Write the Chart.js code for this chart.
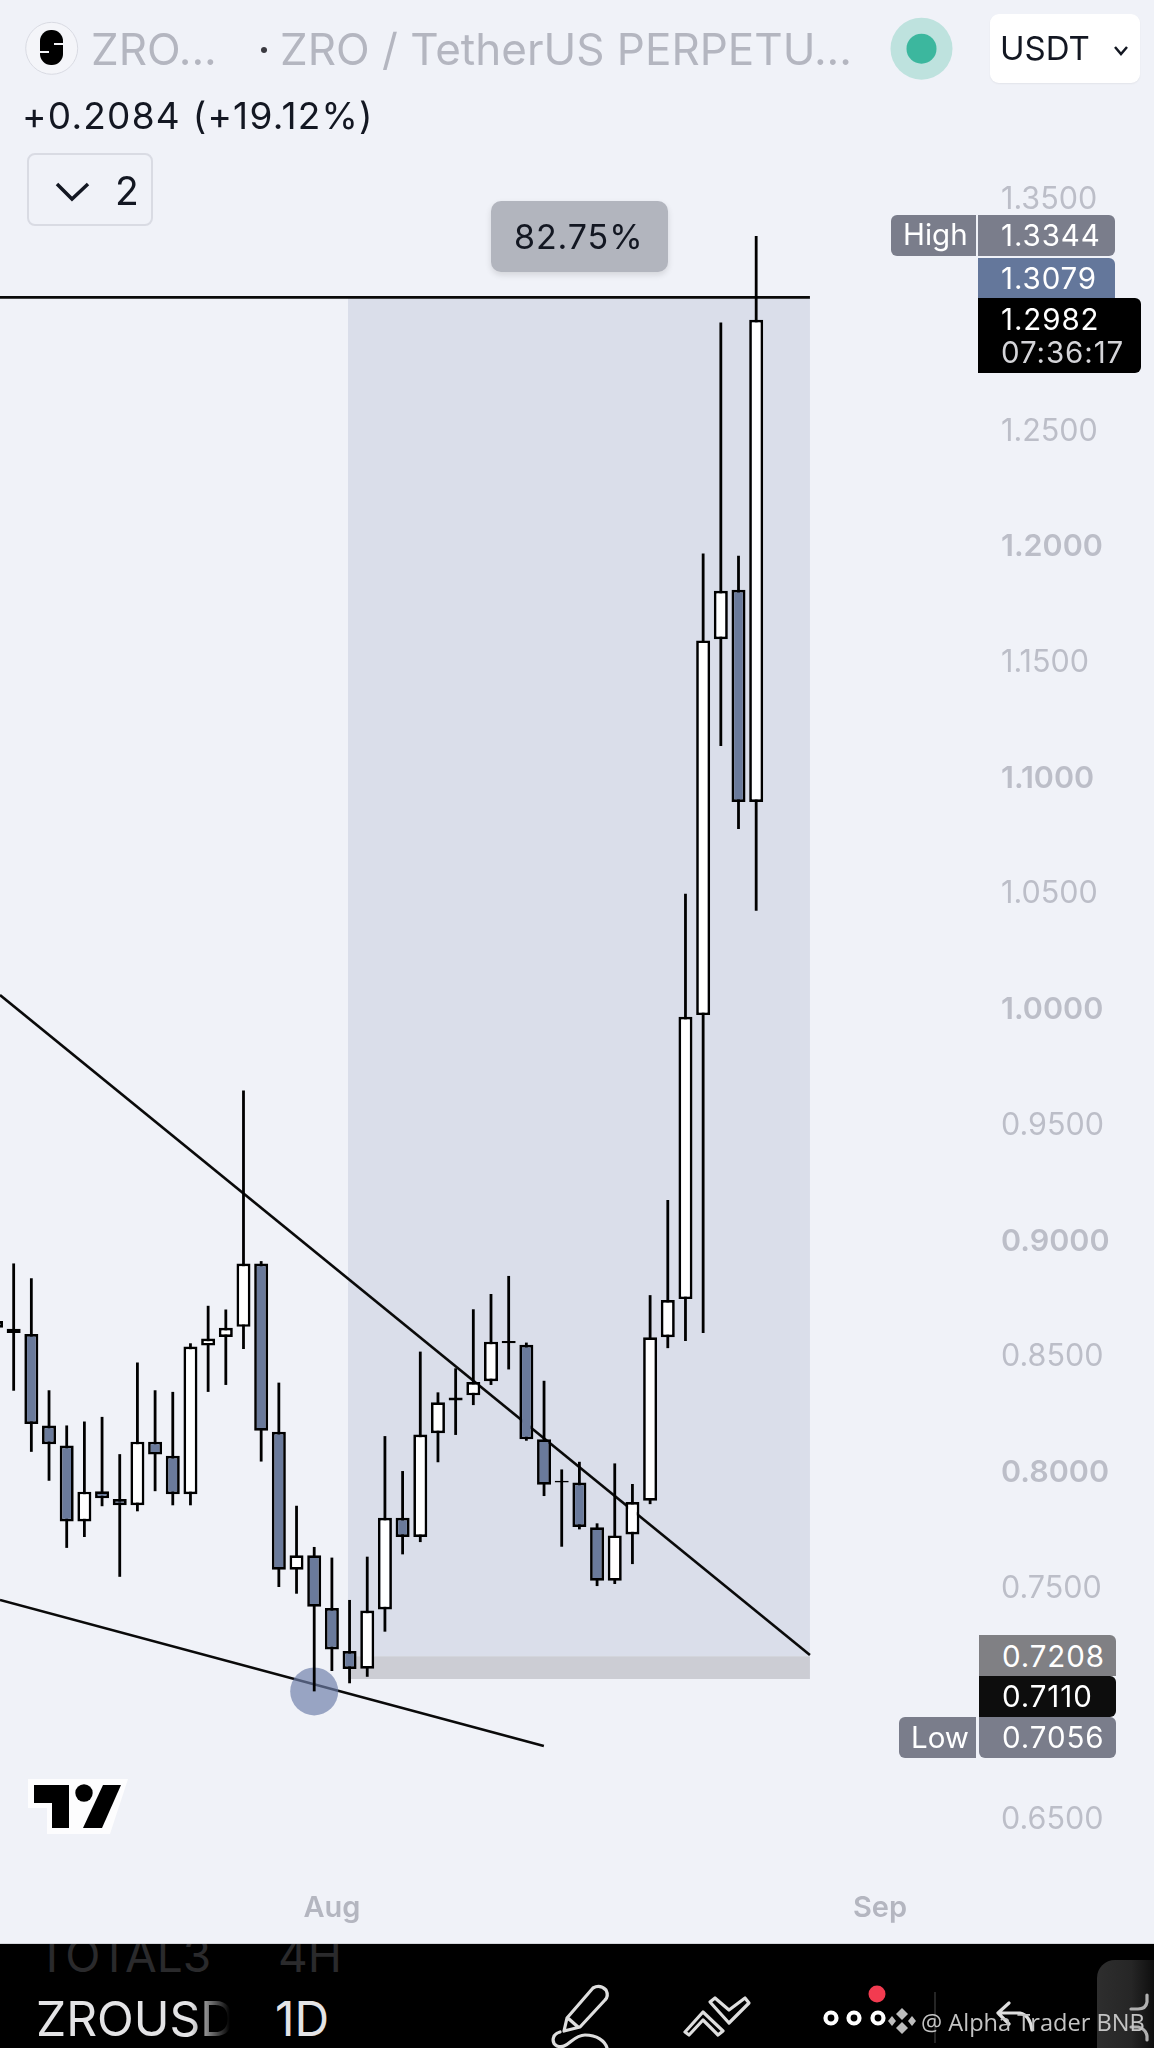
<!DOCTYPE html>
<html>
<head>
<meta charset="utf-8">
<title>ZROUSD 1D</title>
<script src="https://cdn.jsdelivr.net/npm/chart.js@4"></script>
<style>
  html, body { margin: 0; padding: 0; background: #f0f2f8; width: 1154px; height: 2048px; overflow: hidden; font-family: Inter, sans-serif; }
  #chart { position: absolute; left: 0; top: 0; }
  .t { position: absolute; white-space: nowrap; line-height: 1; transform: translateY(-50%); }
  .tag { position: absolute; color: #fff; font-size: 29.5px; letter-spacing: .9px; box-sizing: border-box; }
  .tag span { position: absolute; left: 23px; top: 50%; transform: translateY(-50%); line-height: 1; }
  #footer { position: absolute; left: 0; top: 1943px; width: 1154px; height: 105px; background: #000; overflow: hidden; border-top: 1px solid #d6d7dc; box-sizing: border-box; }
  #icons { position: absolute; left: 0; top: 0; pointer-events: none; }
</style>
</head>
<body>
<canvas id="chart" width="1154" height="1943"></canvas>

<!-- header -->
<span class="t" style="left:91px;top:49px;font-size:44px;color:#b4b6c0">ZRO...</span>
<span class="t" style="left:258px;top:49px;font-size:36px;color:#3a3a40;font-weight:700">·</span>
<span class="t" style="left:280px;top:49px;font-size:44px;color:#b4b6c0">ZRO / TetherUS PERPETU...</span>
<span class="t" style="left:22px;top:115px;font-size:37px;color:#131722;letter-spacing:1.25px">+0.2084 (+19.12%)</span>
<div style="position:absolute;left:27px;top:153px;width:126px;height:73px;box-sizing:border-box;border:2px solid #d9dbe3;border-radius:8px"></div>
<span class="t" style="left:115px;top:190px;font-size:39px;color:#131722">2</span>
<div style="position:absolute;left:990px;top:14px;width:150px;height:69px;background:#fff;border-radius:9px;box-shadow:0 1px 2px rgba(0,0,0,.06)"></div>
<span class="t" style="left:1000px;top:48px;font-size:33px;color:#131722">USDT</span>

<!-- percent pill -->
<div style="position:absolute;left:491px;top:201px;width:177px;height:71px;background:#b2b5be;border-radius:10px;box-shadow:0 3px 6px rgba(0,0,0,.12)"></div>
<span class="t" style="left:514px;top:237px;font-size:34px;color:#131722;letter-spacing:.9px">82.75%</span>

<!-- price tags -->
<div class="tag" style="left:891px;top:215px;width:85px;height:41px;background:#7a7d8b;border-radius:6px 0 0 6px"><span style="left:12px;top:48%;letter-spacing:0">High</span></div>
<div class="tag" style="left:978px;top:215px;width:137px;height:41px;background:#7a7d8b;border-radius:0 6px 6px 0"><span>1.3344</span></div>
<div class="tag" style="left:978px;top:258px;width:137px;height:40px;background:#64779b;border-radius:0 6px 0 0"><span style="top:53%">1.3079</span></div>
<div class="tag" style="left:978px;top:298px;width:163px;height:75px;background:#000;border-radius:0 6px 6px 0">
  <span style="top:22px">1.2982</span><span style="top:55px;color:#d4d4d8">07:36:17</span>
</div>
<div class="tag" style="left:979px;top:1635px;width:137px;height:41px;background:#808084;border-radius:0 6px 0 0"><span style="top:53%">0.7208</span></div>
<div class="tag" style="left:979px;top:1676px;width:137px;height:41px;background:#0d0d0d;border-radius:0 6px 6px 0"><span>0.7110</span></div>
<div class="tag" style="left:899px;top:1717px;width:77px;height:41px;background:#7a7d8b;border-radius:6px 0 0 6px"><span style="left:12px;letter-spacing:0">Low</span></div>
<div class="tag" style="left:979px;top:1717px;width:137px;height:41px;background:#7a7d8b;border-radius:0 6px 6px 6px"><span>0.7056</span></div>

<!-- footer -->
<div id="footer">
  <span class="t" style="left:37px;top:11px;font-size:46px;color:#2a2a2c">TOTAL3</span>
  <span class="t" style="left:278px;top:11px;font-size:46px;color:#2a2a2c">4H</span>
  <div style="position:absolute;left:36px;top:50px;width:194px;height:50px;overflow:hidden;-webkit-mask-image:linear-gradient(90deg,#000 80%,transparent 100%)">
    <span class="t" style="left:0;top:25px;font-size:48px;color:#e4e4e6">ZROUSD</span>
  </div>
  <span class="t" style="left:275px;top:75px;font-size:48px;color:#e4e4e6">1D</span>
  <div style="position:absolute;left:1097px;top:16px;width:57px;height:90px;background:linear-gradient(90deg,#2e2e2e,#262626 60%,#0e0e0e);border-radius:18px 0 0 0"></div>
</div>

<svg id="icons" width="1154" height="2048" viewBox="0 0 1154 2048">
  <!-- pair logo -->
  <circle cx="51.7" cy="48.3" r="26" fill="#f4f5f9" stroke="#d8dae2" stroke-width="1"/>
  <rect x="40" y="30" width="23" height="35" rx="11" fill="#000"/>
  <path d="M54 44 H64 M39 52 H49" stroke="#f4f5f9" stroke-width="2" fill="none"/>
  <!-- live dot -->
  <circle cx="921.5" cy="48.7" r="31" fill="#bee2de"/>
  <circle cx="921.5" cy="48.7" r="15" fill="#3cb79e"/>
  <!-- chevrons -->
  <path d="M1115 47 L1121 54 L1127 47" fill="none" stroke="#131722" stroke-width="2.5"/>
  <path d="M57 184 L72 199 L88 184" fill="none" stroke="#131722" stroke-width="3.5"/>
  <!-- tradingview mark -->
  <polygon points="28,1779 128,1779 110,1834 47,1834 47,1808 28,1808" fill="#fdfdfe"/>
  <polygon points="34,1785 69,1785 69,1828 52,1828 52,1803 34,1803" fill="#000"/>
  <circle cx="84" cy="1793" r="8.7" fill="#000"/>
  <polygon points="103,1785 121,1785 102,1828 83,1828" fill="#000"/>
  <!-- toolbar -->
  <g fill="none" stroke="#dedede" stroke-width="3.2" stroke-linejoin="round" stroke-linecap="round">
    <path d="M564 2031 L567 2018 L593 1988 Q600 1984 606 1990 Q609 1996 605 2000 L580 2027 Z"/>
    <path d="M569 2019 L578 2027"/>
    <path d="M560 2032 C552 2034 551 2043 557 2046 C568 2050 572 2035 585 2035 C597 2035 605 2041 607 2048"/>
    <path d="M685 2032 L703 2012 L723 2031 L718 2035 L703 2020 L689 2035 Z"/>
    <path d="M710 2002 L715 1998 L729 2010 L745 1998 L749 2003 L729 2023 Z"/>
    <path d="M998 2013 L1009 2003 M998 2013 L1009 2024 M998 2013 H1020 Q1030 2015 1032 2030"/>
    <path d="M1147 1995 V2002 Q1146 2009 1138 2009 H1131 M1131 2027 H1138 Q1146 2029 1147 2036 V2040" stroke="#b0b0b0"/>
  </g>
  <g fill="none" stroke="#fff" stroke-width="4.2">
    <circle cx="831" cy="2018" r="5.5"/><circle cx="854" cy="2018" r="5.5"/><circle cx="878" cy="2018" r="5.5"/>
  </g>
  <circle cx="877" cy="1994" r="8.5" fill="#f23b50"/>
  <line x1="935" y1="1992" x2="935" y2="2043" stroke="#4a4a4a" stroke-width="1"/>
  <!-- watermark -->
  <g fill="#bdbdbd">
    <polygon points="902,2008 908,2014 902,2020 896,2014"/>
    <polygon points="902,2022 908,2028 902,2034 896,2028"/>
    <polygon points="892,2016 896,2021 892,2026 888,2021"/>
    <polygon points="912,2016 916,2021 912,2026 908,2021"/>
  </g>
  <text x="921" y="2031" font-family="'Open Sans'" font-size="23.6" fill="#c4c4c4">@ Alpha Trader BNB</text>
</svg>

<script>
'use strict';

// price; first candle sits mostly off the left edge
const opens  = [0.8656, 0.8623, 0.8600, 0.8205, 0.8118, 0.7790, 0.7921, 0.7887, 0.7860, 0.8135, 0.8074, 0.7908, 0.8550, 0.8587, 0.8631, 0.8905, 0.8178, 0.7582, 0.7644, 0.7416, 0.7230, 0.7154, 0.7410, 0.7806, 0.7723, 0.8171, 0.8326, 0.8335, 0.8396, 0.8570, 0.8554, 0.8145, 0.7966, 0.7958, 0.7765, 0.7534, 0.7734, 0.7880, 0.8586, 0.8751, 0.9978, 1.1602, 1.1816, 1.0899];
const closes = [0.8627, 0.8604, 0.8211, 0.8124, 0.7790, 0.7919, 0.7890, 0.7860, 0.8135, 0.8079, 0.7908, 0.8546, 0.8581, 0.8627, 0.8905, 0.8182, 0.7582, 0.7644, 0.7422, 0.7237, 0.7153, 0.7405, 0.7806, 0.7723, 0.8166, 0.8305, 0.8313, 0.8393, 0.8567, 0.8560, 0.8145, 0.7949, 0.7958, 0.7766, 0.7534, 0.7730, 0.7874, 0.8586, 0.8747, 0.9971, 1.1597, 1.1811, 1.0899, 1.2982];
const highs  = [0.8700, 0.8905, 0.8841, 0.8357, 0.8205, 0.8222, 0.8242, 0.8081, 0.8477, 0.8357, 0.8350, 0.8560, 0.8722, 0.8706, 0.9652, 0.8915, 0.8390, 0.7858, 0.7680, 0.7634, 0.7451, 0.7638, 0.8159, 0.8008, 0.8524, 0.8348, 0.8452, 0.8707, 0.8773, 0.8851, 0.8563, 0.8398, 0.8015, 0.8048, 0.7782, 0.8041, 0.7952, 0.8768, 0.9179, 1.0502, 1.1972, 1.2971, 1.1963, 1.3344];
const lows   = [0.8580, 0.8355, 0.8091, 0.7966, 0.7676, 0.7723, 0.7856, 0.7551, 0.7834, 0.7921, 0.7860, 0.7860, 0.8350, 0.8380, 0.8535, 0.8049, 0.7507, 0.7478, 0.7056, 0.7144, 0.7091, 0.7119, 0.7314, 0.7648, 0.7701, 0.8046, 0.8164, 0.8293, 0.8380, 0.8447, 0.8139, 0.7900, 0.7681, 0.7756, 0.7511, 0.7520, 0.7606, 0.7865, 0.8539, 0.8570, 0.8604, 1.1141, 1.0782, 1.0429];
const days   = opens.map((_, i) => i - 1);

const priceTicks = [1.35, 1.30, 1.25, 1.20, 1.15, 1.10, 1.05, 1.00, 0.95, 0.90, 0.85, 0.80, 0.75, 0.70, 0.65];
const boldTicks  = [1.20, 1.10, 1.00, 0.90, 0.80];
const dayTicks   = [18, 49];
const dayLabels  = ['Aug', 'Sep'];

const rangeDays   = [18.91, 45.04];
const rangePrices = [1.3079, 0.7208];
const entryPrices = [0.7208, 0.7110];
const lowMark     = [17, 0.7056];
const upperTrend  = [[-0.773, 1.0065], [45.04, 0.7213]];
const lowerTrend  = [[-0.773, 0.7451], [29.99, 0.6820]];

const toPoints = pairs => pairs.map(([x, y]) => ({ x, y }));

const wickData = days.map((x, i) => ({ x, y: [lows[i], highs[i]] }));
const bodyData = days.map((x, i) => ({ x, y: [opens[i], closes[i]] }));
const bodyColors = days.map((_, i) => closes[i] >= opens[i] ? '#ffffff' : '#6a7a9b');

const lineStyle = { type: 'line', pointRadius: 0, borderColor: '#0a0a0a', borderWidth: 2.6, tension: 0 };

new Chart(document.getElementById('chart'), {
  type: 'bar',
  data: {
    datasets: [
      { type: 'bar', data: bodyData, grouped: false, barThickness: 14, backgroundColor: bodyColors, borderColor: '#000', borderWidth: 2.7, borderSkipped: false, inflateAmount: 0, order: 1 },
      { type: 'bar', data: wickData, grouped: false, barThickness: 2.8, backgroundColor: '#000', borderWidth: 0, inflateAmount: 0, order: 2 },
      { type: 'line', data: [{ x: lowMark[0], y: lowMark[1] }], showLine: false, pointRadius: 24, pointBackgroundColor: 'rgba(110,127,170,.68)', pointBorderWidth: 0, order: 3 },
      { ...lineStyle, data: toPoints(upperTrend), order: 4 },
      { ...lineStyle, data: toPoints(lowerTrend), order: 4 },
      { ...lineStyle, data: [{ x: -0.773, y: rangePrices[0] }, { x: rangeDays[1], y: rangePrices[0] }], borderWidth: 2.8, order: 4 },
      { type: 'line', data: [{ x: rangeDays[0], y: entryPrices[0] }, { x: rangeDays[1], y: entryPrices[0] }], pointRadius: 0, borderWidth: 0, fill: { value: entryPrices[1] }, backgroundColor: '#cccdd4', order: 5 },
      { type: 'line', data: [{ x: rangeDays[0], y: rangePrices[0] }, { x: rangeDays[1], y: rangePrices[0] }], pointRadius: 0, borderWidth: 0, fill: { value: rangePrices[1] }, backgroundColor: '#dadeea', order: 6 }
    ]
  },
  options: {
    responsive: false,
    animation: false,
    devicePixelRatio: 1,
    layout: { padding: 0, autoPadding: false },
    plugins: { legend: { display: false }, tooltip: { enabled: false } },
    scales: {
      x: {
        type: 'linear',
        offset: false,
        min: -0.773,
        max: 54.66,
        grid: { display: false },
        border: { display: false },
        afterBuildTicks: s => { s.ticks = dayTicks.map(value => ({ value })); },
        afterFit: s => { s.height = 63; s.paddingLeft = 0; s.paddingRight = 0; },
        ticks: {
          autoSkip: false,
          maxRotation: 0,
          padding: 3,
          color: '#b4b6c0',
          font: { family: 'Inter', size: 29, weight: '600' },
          callback: v => dayLabels[dayTicks.indexOf(v)]
        }
      },
      y: {
        position: 'right',
        min: 0.6241,
        max: 1.4364,
        grid: { display: false, drawTicks: false },
        border: { display: false },
        afterBuildTicks: s => { s.ticks = priceTicks.map(value => ({ value })); },
        afterFit: s => { s.width = 174; s.paddingTop = 0; s.paddingBottom = 0; },
        ticks: {
          autoSkip: false,
          padding: 21,
          color: '#bcbec8',
          font: ctx => ({ family: 'Inter', size: 30.5, weight: boldTicks.includes(ctx.tick && ctx.tick.value) ? '600' : '400' }),
          callback: v => v.toFixed(4)
        }
      }
    }
  }
});
</script>
</body>
</html>
